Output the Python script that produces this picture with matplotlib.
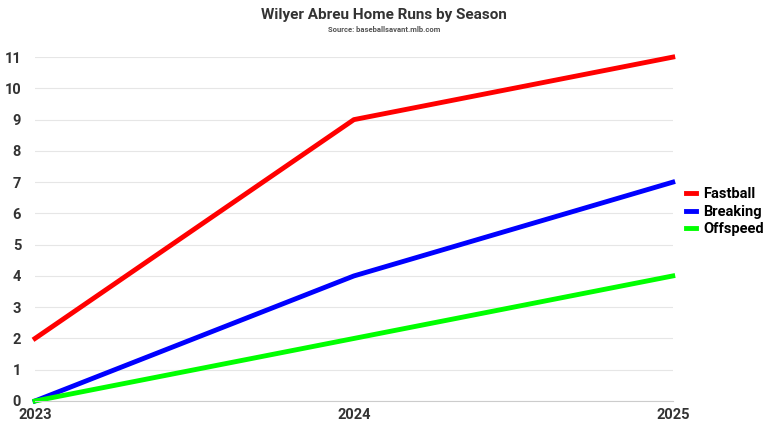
import matplotlib.pyplot as plt

seasons = ["2023", "2024", "2025"]
fastball = [2, 9, 11]
breaking = [0, 4, 7]
offspeed = [0, 2, 4]

plt.rcParams["font.family"] = ["Roboto", "DejaVu Sans"]
plt.rcParams["font.weight"] = "bold"

fig = plt.figure(figsize=(7.68, 4.32), dpi=100)
ax = fig.add_axes([0.0456, 0.0718, 0.8304, 0.796])

x = range(len(seasons))
ax.plot(x, fastball, color="#ff0000", lw=3.5, label="Fastball", clip_on=False)
ax.plot(x, breaking, color="#0000ff", lw=3.5, label="Breaking", clip_on=False)
ax.plot(x, offspeed, color="#00ff00", lw=3.5, label="Offspeed", clip_on=False)

ax.set_xlim(0, 2)
ax.set_ylim(0, 11)
ax.set_yticks(range(12))
ax.set_xticks(list(x))
ax.set_xticklabels(seasons)
ax.tick_params(axis="both", length=0, labelsize=10.5, colors="#333333")
ax.tick_params(axis="y", pad=10)
ax.tick_params(axis="x", pad=5)
ax.grid(axis="y", color="#e6e6e6", lw=0.8)
ax.set_axisbelow(True)
for s in ["top", "right", "left"]:
    ax.spines[s].set_visible(False)
ax.spines["bottom"].set_color("#cccccc")

fig.text(0.5, 0.965, "Wilyer Abreu Home Runs by Season", ha="center", va="center",
         fontsize=11, fontweight="bold", color="#333333")
fig.text(0.5, 0.932, "Source: baseballsavant.mlb.com", ha="center", va="center",
         fontsize=5.5, color="#555555")

ax.legend(loc="center left", bbox_to_anchor=(1.0, 0.55), frameon=False,
          fontsize=10.5, handlelength=0.7, handletextpad=0.5, labelspacing=0.25)

fig.savefig("out.png", dpi=100)
